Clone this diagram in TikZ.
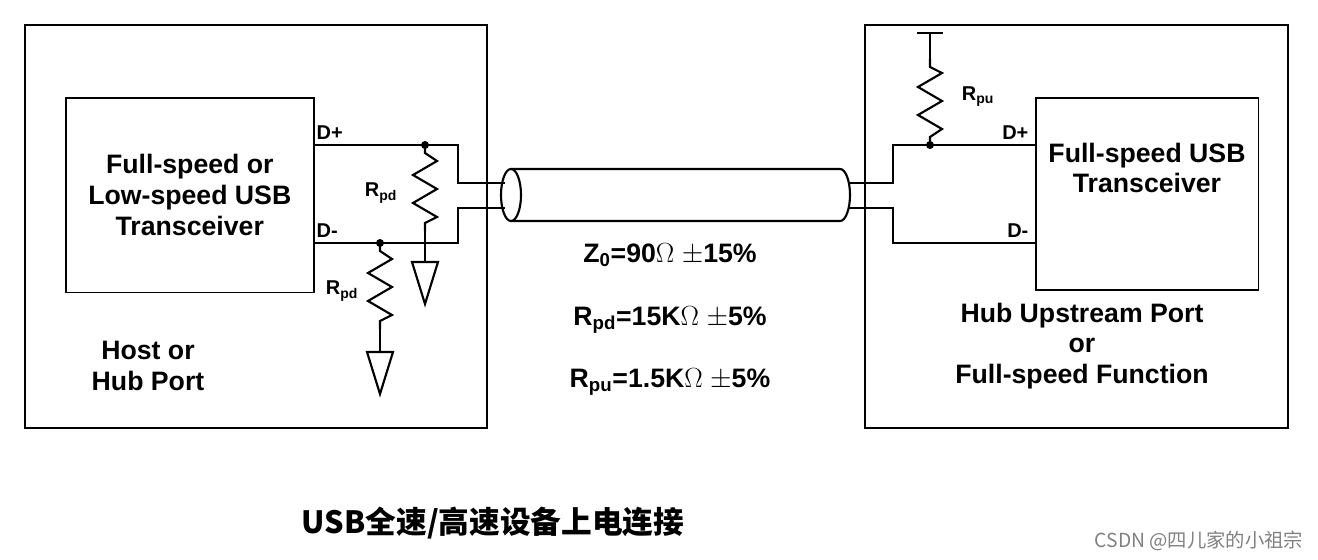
\documentclass[tikz,border=0pt]{standalone}
\usepackage{fontspec}
\setmainfont{Liberation Sans}
\newfontfamily\cjk{Noto Sans CJK SC}
\usetikzlibrary{positioning}

\tikzset{
  box/.style={draw, line width=1.2pt, inner sep=0pt},
  wire/.style={line width=1.6pt},
  lbl/.style={font=\bfseries\fontsize{20}{23}\selectfont, align=center},
  pin/.style={font=\bfseries\fontsize{15}{18}\selectfont, inner sep=1pt},
  dot/.style={circle, fill, inner sep=0pt, minimum size=6pt},
  res/.pic={\draw[wire] (0,0) -- (0,8) -- (12,16) -- (-12,30) -- (12,44) -- (-12,58) -- (12,72) -- (0,78) -- (0,86);},
  gnd/.pic={\draw[wire] (-13,0) -- (13,0) -- (0,42) -- cycle;}
}

\begin{document}
\begin{tikzpicture}[x=0.75pt, y=-0.75pt]
    \useasboundingbox (0,0) rectangle (1318,560);

    % host side
    \draw[box] (25,25) rectangle (487,428);
    \node[box, minimum width=186pt, minimum height=146pt, anchor=north west] (hostx) at (65,97) {};
    \node[lbl] at (hostx.center) {Full-speed or\\Low-speed USB\\Transceiver};
    \node[lbl] (host) at (148,366) {Host or\\Hub Port};
    \node[pin, anchor=south west] (dpl) at (315,141) {D+};
    \node[pin, anchor=south west] (dml) at (315,239) {D-};

    \draw[wire] (313,145) -- (458,145) -- (458,183) -- (505,183);
    \draw[wire] (313,243) -- (458,243) -- (458,208) -- (505,208);

    \node[dot] (dotp) at (425,145) {};
    \pic at (425,145) {res};
    \draw[wire] (425,231) -- (425,262);
    \pic at (425,262) {gnd};
    \node[pin] at (381,193) {R\textsubscript{pd}};

    \node[dot] (dotm) at (380,243) {};
    \pic at (380,243) {res};
    \draw[wire] (380,329) -- (380,352);
    \pic at (380,352) {gnd};
    \node[pin] at (342,291) {R\textsubscript{pd}};

    % cable
    \draw[wire] (511,169) -- (840,169) arc (-90:90:10 and 26) -- (511,221);
    \draw[wire] (511,195) ellipse (10 and 26);
    \draw[wire] (848,183) -- (893,183) -- (893,145) -- (1035,145);
    \draw[wire] (848,208) -- (893,208) -- (893,243) -- (1035,243);

    \node[lbl] (z0) at (670,255) {Z\textsubscript{0}=90$\Omega$ $\pm$15\%};
    \node[lbl] (rpd) at (670,320) {R\textsubscript{pd}=15K$\Omega$ $\pm$5\%};
    \node[lbl] (rpu) at (670,382) {R\textsubscript{pu}=1.5K$\Omega$ $\pm$5\%};

    % device side
    \draw[box] (865,25) rectangle (1288,428);
    \node[box, minimum width=167pt, minimum height=144pt, anchor=north west] (devx) at (1035,97) {};
    \node[lbl] at (1147,168) {Full-speed USB\\Transceiver};
    \node[lbl] (dev) at (1082,346) {Hub Upstream Port\\or\\Full-speed Function};
    \node[pin, anchor=south east] (dpr) at (1030,141) {D+};
    \node[pin, anchor=south east] (dmr) at (1030,239) {D-};

    \node[dot] (dotu) at (930,145) {};
    \pic at (930,145) [yscale=-1] {res};
    \draw[wire] (930,59) -- (930,33);
    \draw[wire] (917,33) -- (943,33);
    \node[pin] at (978,97) {R\textsubscript{pu}};

    \node[font=\cjk\bfseries\fontsize{23}{26}\selectfont] (cap) at (493,523) {USB全速/高速设备上电连接};
    \node[font=\cjk\fontsize{14.5}{16}\selectfont, text=gray] (mark) at (1199,541) {CSDN @四儿家的小祖宗};
\end{tikzpicture}
\end{document}
